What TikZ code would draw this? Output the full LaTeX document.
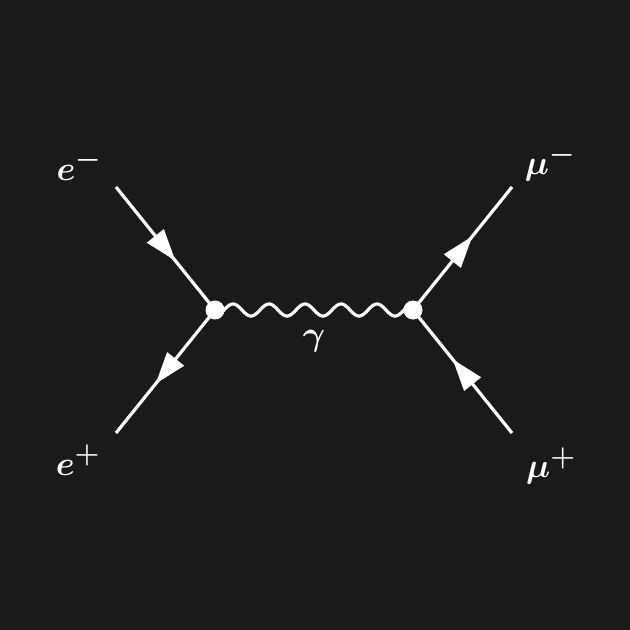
\documentclass[tikz,border=0pt]{standalone}
\usetikzlibrary{arrows.meta,decorations.markings}
\definecolor{bgc}{HTML}{1A1A1A}
\newcommand{\biglbl}[1]{\scalebox{1.37}{\Huge\boldmath$#1$}}
\begin{document}
\begin{tikzpicture}[x=1pt,y=-1pt,
  fermion/.style={draw=white,line width=3.2pt,postaction={decorate},
    decoration={markings,mark=at position 0.6 with {\arrow{Triangle[length=32pt,width=21pt]}}}},
  photon/.style={draw=white,line width=3.2pt},
  vertexdot/.style={circle,fill=white,minimum size=19pt,inner sep=0pt},
  lbl/.style={text=white,inner sep=0pt}]
\fill[bgc] (0,0) rectangle (630,630);
\useasboundingbox (0,0) rectangle (630,630);
\coordinate (v1) at (215,310);
\coordinate (v2) at (413,310);
\coordinate (em) at (116,187);
\coordinate (ep) at (116,433);
\coordinate (mm) at (512,187);
\coordinate (mp) at (512,433);
\path[fermion,white] (em) -- (v1);
\path[fermion,white] (v1) -- (ep);
\path[fermion,white] (v2) -- (mm);
\path[fermion,white] (mp) -- (v2);
\draw[photon,shift={(v1)}] plot[domain=0:198,samples=240,smooth] (\x,{6*cos(10*\x)});
\node[vertexdot] (d1) at (v1) {};
\node[vertexdot] (d2) at (v2) {};
\node[lbl] (lem) at (79,165) {\biglbl{e^-}};
\node[lbl] (lep) at (78,460) {\biglbl{e^+}};
\node[lbl] (lmm) at (550,163) {\biglbl{\mu^-}};
\node[lbl] (lmp) at (551,466) {\biglbl{\mu^+}};
\node[lbl] (lg) at (314,341) {\biglbl{\gamma}};
\end{tikzpicture}
\end{document}
